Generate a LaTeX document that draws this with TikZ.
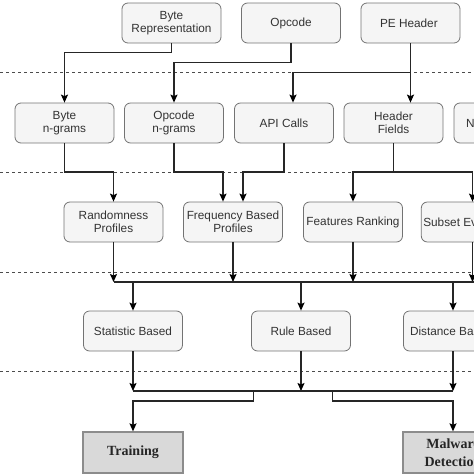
\documentclass[tikz,border=0pt]{standalone}
\usepackage{fontspec}
\setmainfont{Liberation Sans}
\newfontfamily\serifbf{Liberation Serif}
\usetikzlibrary{arrows.meta}

\tikzset{
	box/.style={draw=black!55, line width=0.8pt, fill=black!4, rounded corners=6pt, minimum width=99pt, minimum height=40pt,
		inner sep=2pt, align=center, text=black!80, font=\fontsize{11.8}{13.5}\selectfont},
	outbox/.style={draw=black!45, fill=black!15, line width=1.3pt, minimum width=100pt, minimum height=41pt,
		inner sep=2pt, align=center, text=black!85, font=\serifbf\bfseries\fontsize{14}{17.5}\selectfont},
	arr/.style={-{Stealth[length=8pt,width=7pt,inset=1.5pt,color=black]}, line width=1.3pt, draw=black!85},
	wire/.style={line width=1.3pt, draw=black!85},
	sepline/.style={draw=black!70, line width=0.9pt, dash pattern=on 3pt off 3pt}
}

\begin{document}
\begin{tikzpicture}[x=1pt, y=-1pt]
	\useasboundingbox (0,0) rectangle (474,474);
	\clip (0,0) rectangle (474,474);

	% stage separators
	\foreach \y in {72,172,272,371.5}
		\draw[sepline] (0,\y) -- (474,\y);

	% sources
	\foreach \name / \x / \txt in {
		byterep/171.5/{Byte\\Representation},
		opcode/291/{Opcode},
		peheader/410.5/{PE Header}
	}
		\node[box] (\name) at (\x,23) {\txt};

	% features
	\foreach \name / \x / \txt in {
		bytegram/64.5/{Byte\\n-grams},
		opgram/174/{Opcode\\n-grams},
		api/284/{API Calls},
		hdr/393.5/{Header\\Fields},
		net/503.5/{Network Data}
	}
		\node[box] (\name) at (\x,123) {\txt};

	% profiles
	\foreach \name / \x / \txt in {
		random/113.5/{Randomness\\Profiles},
		freq/233/{Frequency Based\\Profiles},
		rank/353/{Features Ranking},
		subset/472.5/{Subset Evaluation}
	}
		\node[box] (\name) at (\x,222) {\txt};

	% methods
	\foreach \name / \x / \txt in {
		stat/133/{Statistic Based},
		rule/301/{Rule Based},
		dist/453/{Distance Based}
	}
		\node[box] (\name) at (\x,331) {\txt};

	% outputs
	\node[outbox] (train) at (133,452.5) {Training};
	\node[outbox] (detect) at (453,452.5) {Malware\\Detection};

	% sources -> features
	\draw[arr] (byterep.south) -- ++(0,9) -| (bytegram.north);
	\draw[arr] (opcode.south) -- ++(0,19) -| (opgram.north);
	\draw[arr] (peheader.south) -- (peheader.south |- hdr.north);
	\coordinate (pesplit) at (peheader.south |- 0,72.5);
	\draw[arr] (pesplit) -| ([xshift=9pt]api.north);

	% features -> profiles
	\coordinate (hdrsplit) at (hdr.south |- 0,172);
	\draw[arr] (bytegram.south) -- (bytegram.south |- 0,172) -| (random.north);
	\draw[arr] (opgram.south) -- (opgram.south |- 0,172) -| ([xshift=-10pt]freq.north);
	\draw[arr] (api.south) -- (api.south |- 0,172) -| ([xshift=10pt]freq.north);
	\draw[arr] (hdr.south) -- (hdrsplit) -| (rank.north);
	\draw[arr] (hdrsplit) -| (subset.north);

	% profiles -> methods
	\foreach \n in {random,freq,rank,subset}
		\draw[arr] (\n.south) -- (\n.south |- 0,282);
	\draw[wire] (random.south |- 0,282) -- (520,282);
	\foreach \n in {stat,rule,dist}
		\draw[arr] (\n.north |- 0,282) -- (\n.north);

	% methods -> outputs
	\foreach \n in {stat,rule,dist}
		\draw[arr] (\n.south) -- (\n.south |- 0,391);
	\draw[wire] (stat.south |- 0,391) -- (dist.south |- 0,391);
	\coordinate (totrain) at (253.3,391);
	\coordinate (todetect) at (332.7,391);
	\draw[arr] (totrain) -- ++(0,10) -| (train.north);
	\draw[arr] (todetect) -- ++(0,10) -| (detect.north);
\end{tikzpicture}
\end{document}
